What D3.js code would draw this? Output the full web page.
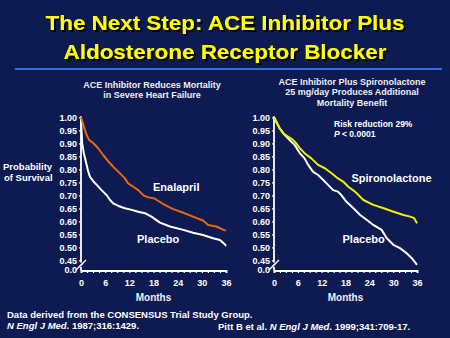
<!DOCTYPE html>
<html><head><meta charset="utf-8">
<script src="https://cdn.jsdelivr.net/npm/d3@7"></script>
<style>
html,body{margin:0;padding:0;background:#0e1b52;}
svg{display:block;}
text{font-family:"Liberation Sans",Arial,sans-serif;font-weight:bold;}
</style></head>
<body>
<svg id="c" width="450" height="338"></svg>
<script>
// ---- data ----
const yTicks = [1.00,0.95,0.90,0.85,0.80,0.75,0.70,0.65,0.60,0.55,0.50,0.45];
const xTickLabels = [0,6,12,18,24,30,36];

const leftMonthsEnalapril = [0,0.6,1.0,1.4,2.0,3.1,4.3,5.5,6.8,8.0,9.3,10.9,11.7,13.0,14.2,15.5,16.7,18.3,18.8,20.8,22.9,25.4,27.8,30.3,31.6,33.6,35.4,36];
const leftEnalapril       = [1.00,0.97,0.951,0.932,0.913,0.90,0.88,0.855,0.83,0.81,0.79,0.765,0.746,0.733,0.72,0.70,0.692,0.688,0.682,0.663,0.647,0.633,0.618,0.603,0.586,0.58,0.567,0.565];

const leftMonthsPlacebo = [0,0.1,0.3,0.7,1.2,1.7,2.2,3.1,3.9,5.1,6.4,7.2,8.0,9.3,10.9,12.6,14.2,15.9,17.5,19.6,22.1,25.4,27.8,30.3,32.8,34.5,35.7,36];
const leftPlacebo       = [1.00,0.96,0.90,0.862,0.83,0.797,0.772,0.753,0.74,0.72,0.70,0.682,0.669,0.659,0.65,0.644,0.637,0.631,0.618,0.595,0.58,0.567,0.556,0.547,0.535,0.528,0.512,0.505];

const rightMonthsSpiro = [0,0.6,1.4,2.3,3.5,4.8,5.6,6.5,7.7,9.4,11.1,12.8,14.5,16.1,17.4,18.7,20.4,22.5,25.0,27.6,30.1,32.6,34.3,35.3,36];
const rightSpiro       = [1.00,0.983,0.958,0.938,0.926,0.913,0.90,0.881,0.862,0.842,0.817,0.804,0.785,0.765,0.753,0.733,0.714,0.682,0.663,0.65,0.637,0.624,0.618,0.612,0.592];

const rightMonthsPlacebo = [0,1.4,2.7,3.9,5.2,6.5,7.7,8.6,9.8,11.1,12.4,13.6,14.9,16.1,17.0,18.2,20.0,21.7,23.4,25.0,27.1,28.4,30.1,31.8,33.4,34.7,36];
const rightPlacebo       = [1.00,0.958,0.932,0.913,0.894,0.862,0.842,0.817,0.791,0.778,0.759,0.74,0.72,0.714,0.70,0.676,0.65,0.624,0.605,0.586,0.567,0.535,0.509,0.496,0.477,0.458,0.432];

// ---- drawing ----
const svg = d3.select("#c");
const defs = svg.append("defs");
const flt = defs.append("filter").attr("id","shadow").attr("x","-5%").attr("y","-20%").attr("width","115%").attr("height","150%");
flt.append("feDropShadow").attr("dx",2).attr("dy",2).attr("stdDeviation",0.4)
  .attr("flood-color","#000").attr("flood-opacity",1);

svg.append("rect").attr("width",450).attr("height",338).attr("fill","#0e1b52");

// title
[["The Next Step: ACE Inhibitor Plus",29.5,359],["Aldosterone Receptor Blocker",58.5,323]].forEach(([t,y,w])=>{
  svg.append("text").attr("x",225).attr("y",y).attr("text-anchor","middle")
    .attr("font-size",21).attr("fill","#ffff00").attr("filter","url(#shadow)")
    .attr("textLength",w).attr("lengthAdjust","spacingAndGlyphs").text(t);
});
svg.append("line").attr("x1",15).attr("x2",442).attr("y1",69).attr("y2",69)
  .attr("stroke","#2f6fe0").attr("stroke-width",2);

function subtitle(lines, cx, y0){
  lines.forEach((t,i)=>svg.append("text").attr("x",cx).attr("y",y0+i*10.7)
    .attr("text-anchor","middle").attr("font-size",9).attr("fill","#eeeeee").text(t));
}
subtitle(["ACE Inhibitor Reduces Mortality","in Severe Heart Failure"],152,87.5);
subtitle(["ACE Inhibitor Plus Spironolactone","25 mg/day Produces Additional","Mortality Benefit"],352,84.5);

const yTop = 117.3, y45 = 260.3, yBase = 270.5;

function panel(x0, x1, series){
  const x = d3.scaleLinear().domain([0,36]).range([x0,x1]);
  const y = d3.scaleLinear().domain([0.45,1.0]).range([y45,yTop]);
  const g = svg.append("g");

  // y axis
  const ya = g.append("g").attr("transform",`translate(${x0},0)`)
    .call(d3.axisLeft(y).tickValues(yTicks).tickFormat(d3.format(".2f")).tickSize(2).tickPadding(2));
  ya.select(".domain").remove();
  ya.selectAll(".tick line").attr("stroke","#fff").attr("stroke-width",1.2);
  ya.selectAll(".tick text").attr("fill","#fff").attr("font-size",9)
    .attr("font-family","Liberation Sans, Arial, sans-serif").attr("font-weight","bold");
  // extra 0.0 label
  g.append("text").attr("x",x0-4).attr("y",yBase).attr("dy","0.32em").attr("text-anchor","end")
    .attr("font-size",9).attr("fill","#fff").text("0.0");
  // axis line with break
  g.append("line").attr("x1",x0).attr("x2",x0).attr("y1",yTop-1).attr("y2",262.5)
    .attr("stroke","#fff").attr("stroke-width",1.8);
  g.append("line").attr("x1",x0).attr("x2",x0).attr("y1",267).attr("y2",yBase)
    .attr("stroke","#fff").attr("stroke-width",1.8);
  [0,3].forEach(o=>g.append("line").attr("x1",x0-4+o-1).attr("y1",269-o+1).attr("x2",x0+3+o-1).attr("y2",262-o+1)
    .attr("stroke","#fff").attr("stroke-width",1.2));

  // x axis
  const xa = g.append("g").attr("transform",`translate(0,${yBase})`)
    .call(d3.axisBottom(x).tickValues(d3.range(0,36.01,1.5)).tickSize(2.5).tickPadding(7)
      .tickFormat(d=> xTickLabels.includes(d) ? d : ""));
  xa.select(".domain").attr("stroke","#fff").attr("stroke-width",1.8);
  xa.selectAll(".tick line").attr("stroke","#fff").attr("stroke-width",1.2);
  xa.selectAll(".tick text").attr("fill","#fff").attr("font-size",9)
    .attr("font-family","Liberation Sans, Arial, sans-serif").attr("font-weight","bold");
  g.append("text").attr("x",(x0+x1)/2).attr("y",301).attr("text-anchor","middle")
    .attr("font-size",10).attr("fill","#eeeeee").text("Months");

  const line = d3.line().x(d=>x(d[0])).y(d=>y(d[1]));
  series.forEach(s=>{
    g.append("path").datum(d3.zip(s.m,s.v)).attr("d",line)
      .attr("fill","none").attr("stroke",s.color).attr("stroke-width",2).attr("stroke-linejoin","round");
  });
  return {x,y};
}

panel(81,226,[
  {m:leftMonthsPlacebo, v:leftPlacebo, color:"#ffffff"},
  {m:leftMonthsEnalapril, v:leftEnalapril, color:"#e8680e"}
]);
panel(274,417,[
  {m:rightMonthsPlacebo, v:rightPlacebo, color:"#ffffff"},
  {m:rightMonthsSpiro, v:rightSpiro, color:"#f0f000"}
]);

function label(t,x,y,size,anchor){
  return svg.append("text").attr("x",x).attr("y",y).attr("font-size",size)
    .attr("text-anchor",anchor||"start").attr("fill","#ffffff").text(t);
}
label("Probability",3,170,9.5);
label("of Survival",4,180.5,9.5);
label("Enalapril",153,191,11);
label("Placebo",137,242.5,11);
label("Spironolactone",351.5,181.5,11);
label("Placebo",342.5,242.5,11);
label("Risk reduction 29%",334,126.5,8.5);
const p = svg.append("text").attr("x",334).attr("y",137).attr("font-size",8.5).attr("fill","#fff");
p.append("tspan").attr("font-style","italic").text("P");
p.append("tspan").text(" < 0.0001");

// footer
label("Data derived from the CONSENSUS Trial Study Group.",7,318,9.5);
const f2 = svg.append("text").attr("x",7).attr("y",328.5).attr("font-size",9.5).attr("fill","#fff");
f2.append("tspan").attr("font-style","italic").text("N Engl J Med.");
f2.append("tspan").text(" 1987;316:1429.");
const f3 = svg.append("text").attr("x",218).attr("y",330).attr("font-size",9.5).attr("fill","#fff");
f3.append("tspan").text("Pitt B et al. ");
f3.append("tspan").attr("font-style","italic").text("N Engl J Med.");
f3.append("tspan").text(" 1999;341:709-17.");
</script>
</body></html>
